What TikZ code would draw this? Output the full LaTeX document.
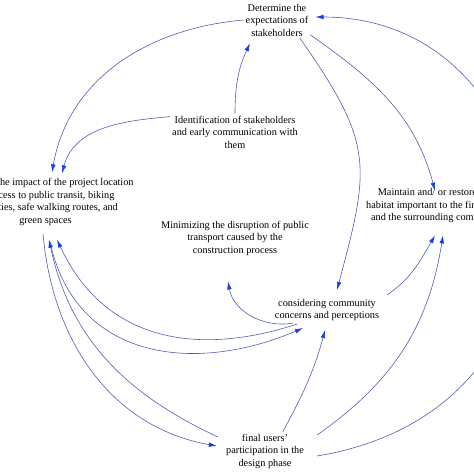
\documentclass[tikz,border=0pt]{standalone}
\usepackage{fontspec}
\setmainfont{Liberation Serif}
\usepackage{tikz}
\usetikzlibrary{arrows.meta}
\definecolor{linkblue}{RGB}{80,92,182}
\definecolor{tipblue}{RGB}{24,62,228}
\tikzstyle{stage} = [align=center, font=\fontsize{10.3}{12.5}\selectfont, inner sep=2pt]
\tikzstyle{link} = [draw=linkblue, line width=0.6pt, -{Latex[length=8pt,width=4.6pt,color=tipblue]}]

\begin{document}
\begin{tikzpicture}[x=1pt,y=1pt]
\useasboundingbox (0,0) rectangle (474,474);
\clip (0,0) rectangle (474,474);
\node[stage] (expect) at (277,454) {Determine the\\expectations of\\stakeholders};
\node[stage] (identify) at (235,342) {Identification of stakeholders\\and early communication with\\them};
\node[stage] (impact) at (45.5,272) {Consider the impact of the project location\\on access to public transit, biking\\amenities, safe walking routes, and\\green spaces};
\node[stage, anchor=west] (habitat) at (364,268) {Maintain and/ or restores the\\habitat important to the final users\\and the surrounding community};
\node[stage] (disrupt) at (235,236) {Minimizing the disruption of public\\transport caused by the\\construction process};
\node[stage] (concern) at (327,164) {considering community\\concerns and perceptions};
\node[stage] (users) at (265,23) {final users'\\participation in the\\design phase};

% links out of the top node
\draw[link] (expect.west) to[out=185, in=80] ([xshift=6.5pt,yshift=4pt]impact.north);
\draw[link] ([xshift=23pt]expect.south) to[out=-55, in=75, looseness=1.3] ([xshift=10pt,yshift=7pt]concern.north);
\draw[link] ([yshift=-15pt]expect.east) to[out=-35, in=105] ([xshift=71pt,yshift=-4pt]habitat.north west);
% stakeholders
\draw[link] (identify.north) to[out=90, in=245] ([xshift=-27pt,yshift=-5pt]expect.south);
\draw[link] ([yshift=-3pt]identify.north west) to[out=185, in=75] ([xshift=16.5pt,yshift=3pt]impact.north);
% community concerns
\draw[link] ([xshift=6pt,yshift=2pt]concern.north east) to[out=35, in=240] ([xshift=71pt,yshift=-10pt]habitat.south west);
\draw[link] ([xshift=-34pt]concern.south) to[out=190, in=-80] ([xshift=-7pt,yshift=-24pt]disrupt.south);
\draw[link] ([xshift=-30pt,yshift=-1pt]concern.south) to[out=198, in=-65, looseness=1.1] ([xshift=11.5pt,yshift=-12pt]impact.south);
% impact
\draw[link] ([xshift=4.5pt,yshift=-14pt]impact.south) to[out=-78, in=203, looseness=1.15] ([xshift=-24pt,yshift=-5pt]concern.south);
\draw[link] ([xshift=-2.5pt,yshift=-6pt]impact.south) to[out=-85, in=170] ([xshift=-7pt,yshift=5pt]users.west);
% final users
\draw[link] ([xshift=-6pt,yshift=14pt]users.west) to[out=155, in=-78] ([xshift=3.5pt,yshift=-12pt]impact.south);
\draw[link] ([xshift=18pt]users.north) to[out=62, in=-105] ([xshift=-2pt,yshift=-7pt]concern.south);
\draw[link] ([xshift=11pt,yshift=16pt]users.east) to[out=35, in=261] ([xshift=79pt,yshift=-10pt]habitat.south west);
\draw[link] ([xshift=11pt,yshift=-5pt]users.east) .. controls +(300,50) and +(250,0) .. ([xshift=5pt,yshift=3pt]expect.east);
\end{tikzpicture}
\end{document}
